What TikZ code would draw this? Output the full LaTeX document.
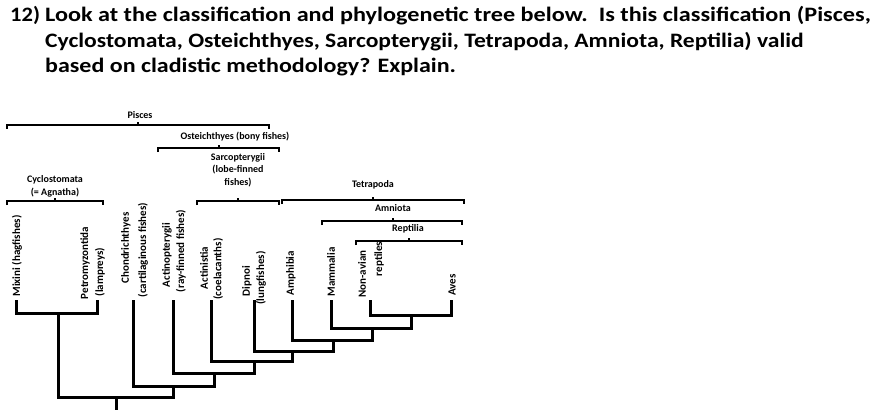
\documentclass[tikz,border=0pt]{standalone}
\usepackage{fontspec}
\setmainfont{Carlito}
\newcommand\mybrak[5]{%
  \coordinate (#1L) at (#2,#4);
  \coordinate (#1R) at (#3,#4);
  \coordinate (#1C) at (#5,#4);
  \draw[brk] ([yshift=-4pt]#1L) -- (#1L) -- (#1R) -- ([yshift=-4pt]#1R);
  \draw[brk] (#1C) -- ([yshift=3pt]#1C);}
\begin{document}
\begin{tikzpicture}[x=1pt,y=-1pt,
  tree/.style={line width=3pt},
  brk/.style={line width=1.3pt},
  vlab/.style={rotate=90, font=\bfseries\fontsize{11}{12}\selectfont, inner sep=0pt},
  hlab/.style={font=\bfseries\fontsize{10}{11}\selectfont, inner sep=0pt, align=center},
  ttl/.style={font=\bfseries\fontsize{20.5}{24}\selectfont, anchor=base west, inner sep=0pt}]
\useasboundingbox (0,0) rectangle (880,417);
\fill[white] (0,0) rectangle (880,417);
% title
\node[ttl] (t0) at (10,22) {\scalebox{1.1}[1]{12)}};
\node[ttl] (t1) at (45,22) {\scalebox{1.18}[1]{Look at the classification and phylogenetic tree below.\ \ Is this classification (Pisces,}};
\node[ttl] (t2) at (45,48) {\scalebox{1.15}[1]{Cyclostomata, Osteichthyes, Sarcopterygii, Tetrapoda, Amniota, Reptilia) valid}};
\node[ttl] (t3) at (45,73) {\scalebox{1.17}[1]{based on cladistic methodology? Explain.}};
% brackets
\mybrak{pi}{7}{269}{125}{138}
\node[hlab] (piT) at (140,115) {Pisces};
\mybrak{os}{158}{279}{148}{219}
\node[hlab] (osT) at (235,137) {Osteichthyes (bony fishes)};
\mybrak{sa}{197}{279}{201}{238}
\node[hlab, font=\bfseries\fontsize{10}{12.5}\selectfont] (saT) at (238,170) {Sarcopterygii\\(lobe-finned\\fishes)};
\mybrak{cy}{7}{103}{201}{55}
\node[hlab, font=\bfseries\fontsize{10}{13}\selectfont] (cyT) at (55,186) {Cyclostomata\\(= Agnatha)};
\mybrak{te}{282}{464}{200}{373}
\node[hlab] (teT) at (373,185) {Tetrapoda};
\mybrak{am}{322}{462}{221}{393}
\node[hlab] (amT) at (393,208) {Amniota};
\mybrak{re}{356}{462}{241}{409}
\node[hlab] (reT) at (408,229) {Reptilia};
% vertical labels
\node[vlab] (l1) at (17,256) {Mixini (hagfishes)};
\node[vlab] (l2a) at (85,263) {Petromyzontida};
\node[vlab] (l2b) at (100,272) {(lampreys)};
\node[vlab] (l3a) at (126,248) {Chondrichthyes};
\node[vlab] (l3b) at (143,250) {(cartilaginous fishes)};
\node[vlab] (l4a) at (167,255) {Actinopterygii};
\node[vlab] (l4b) at (181,251) {(ray-finned fishes)};
\node[vlab] (l5a) at (204,268) {Actinistia};
\node[vlab] (l5b) at (218,269) {(coelacanths)};
\node[vlab] (l6a) at (247,281) {Dipnoi};
\node[vlab] (l6b) at (261,278) {(lungfishes)};
\node[vlab] (l7) at (291,273) {Amphibia};
\node[vlab] (l8) at (331,272) {Mammalia};
\node[vlab] (l9a) at (362,274) {Non-avian};
\node[vlab] (l9b) at (379,259) {reptiles};
\node[vlab] (l10) at (452,285) {Aves};
% tree tips
\foreach \n/\x in {mix/16, pet/97, cho/133, actp/173, acti/211, dip/254, amph/292, mam/331, non/370, aves/451}
  \coordinate (\n) at (\x,300);
% internal nodes
\coordinate (bird) at (411,315);
\coordinate (amn) at (372,328);
\coordinate (tet) at (333,340);
\coordinate (rhi) at (292,351);
\coordinate (sar) at (254,361);
\coordinate (ost) at (214,373);
\coordinate (gna) at (173,386);
\coordinate (cyc) at (58,313);
\coordinate (root) at (116,397);
\coordinate (base) at (116,410);
\draw[tree] (mix) |- (cyc) -| (pet);
\draw[tree] (non) |- (bird) -| (aves);
\draw[tree] (mam) |- (amn) -| (bird);
\draw[tree] (amph) |- (tet) -| (amn);
\draw[tree] (dip) |- (rhi) -| (tet);
\draw[tree] (acti) |- (sar) -| (rhi);
\draw[tree] (actp) |- (ost) -| (sar);
\draw[tree] (cho) |- (gna) -| (ost);
\draw[tree] (cyc) |- (root) -| (gna);
\draw[tree] (root) -- (base);
\end{tikzpicture}
\end{document}
